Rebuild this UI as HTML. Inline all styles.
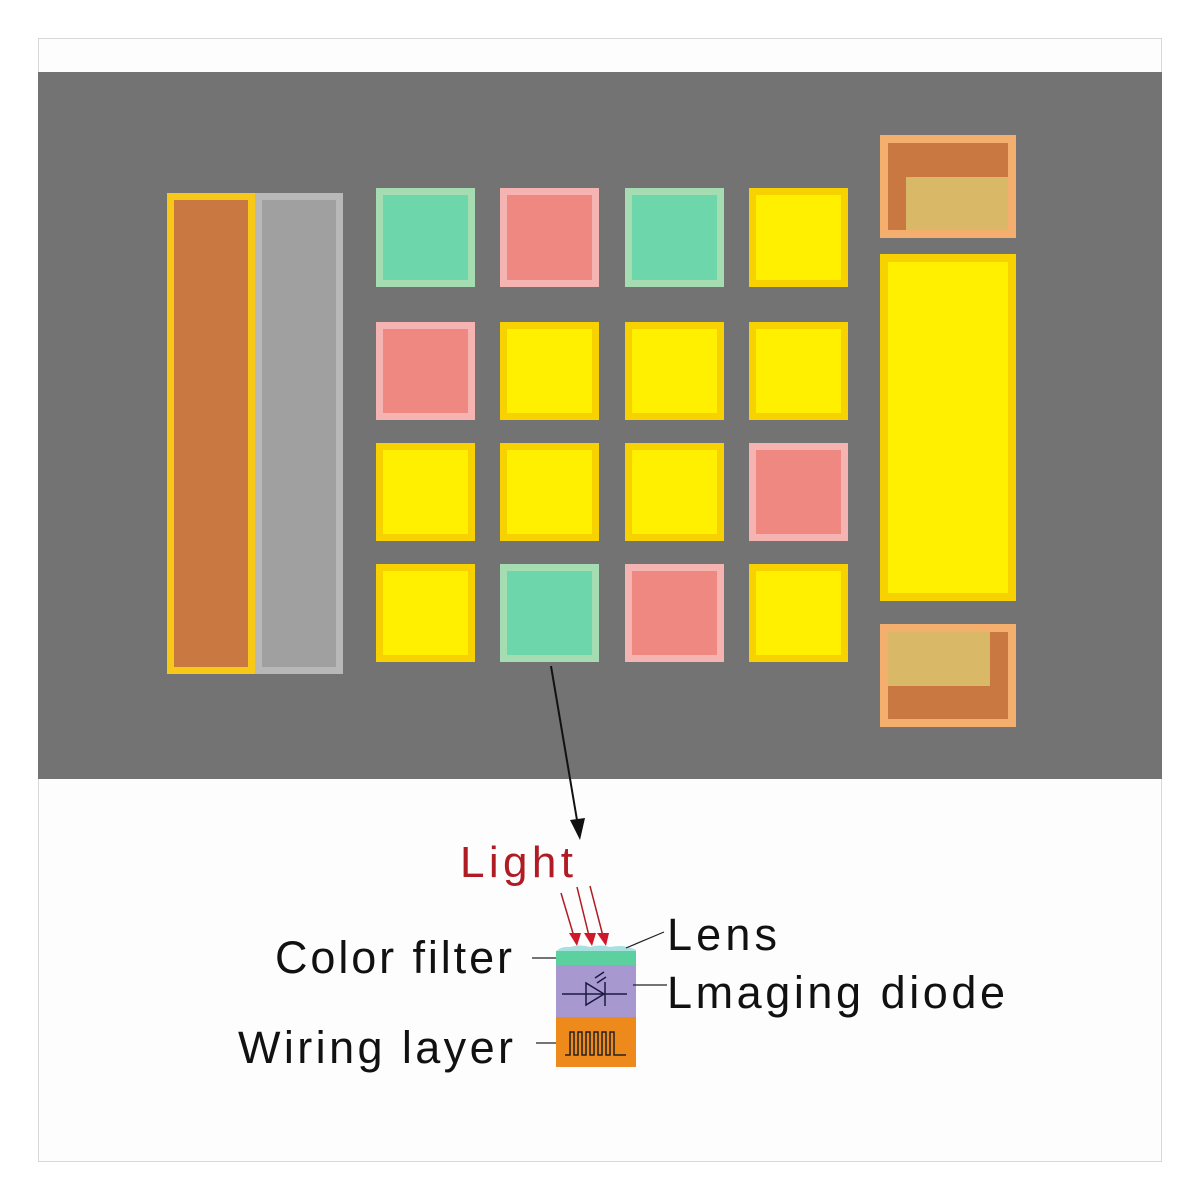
<!DOCTYPE html>
<html><head><style>body{margin:0;background:#fff}svg{display:block}</style></head><body>
<svg width="1200" height="1200" xmlns="http://www.w3.org/2000/svg" font-family="Liberation Sans, sans-serif">
<rect x="0" y="0" width="1200" height="1200" fill="#fff"/>
<rect x="38.5" y="38.5" width="1123" height="1123" fill="#fdfdfd" stroke="#d8d8d8"/>
<rect x="38" y="72" width="1124" height="707" fill="#737373"/>
<rect x="170.5" y="196.5" width="81" height="474" fill="#c87840" stroke="#f8c818" stroke-width="7"/>
<rect x="258.5" y="196.5" width="81" height="474" fill="#a0a0a0" stroke="#b8b8b8" stroke-width="7"/>
<g stroke-width="7">
<rect x="379.5" y="191.5" width="92" height="92" fill="#6dd6ab" stroke="#a6dcb2"/>
<rect x="503.5" y="191.5" width="92" height="92" fill="#ef8880" stroke="#f5b4b2"/>
<rect x="628.5" y="191.5" width="92" height="92" fill="#6dd6ab" stroke="#a6dcb2"/>
<rect x="752.5" y="191.5" width="92" height="92" fill="#fff000" stroke="#f8d200"/>
<rect x="379.5" y="325.5" width="92" height="91" fill="#ef8880" stroke="#f5b4b2"/>
<rect x="503.5" y="325.5" width="92" height="91" fill="#fff000" stroke="#f8d200"/>
<rect x="628.5" y="325.5" width="92" height="91" fill="#fff000" stroke="#f8d200"/>
<rect x="752.5" y="325.5" width="92" height="91" fill="#fff000" stroke="#f8d200"/>
<rect x="379.5" y="446.5" width="92" height="91" fill="#fff000" stroke="#f8d200"/>
<rect x="503.5" y="446.5" width="92" height="91" fill="#fff000" stroke="#f8d200"/>
<rect x="628.5" y="446.5" width="92" height="91" fill="#fff000" stroke="#f8d200"/>
<rect x="752.5" y="446.5" width="92" height="91" fill="#ef8880" stroke="#f5b4b2"/>
<rect x="379.5" y="567.5" width="92" height="91" fill="#fff000" stroke="#f8d200"/>
<rect x="503.5" y="567.5" width="92" height="91" fill="#6dd6ab" stroke="#a6dcb2"/>
<rect x="628.5" y="567.5" width="92" height="91" fill="#ef8880" stroke="#f5b4b2"/>
<rect x="752.5" y="567.5" width="92" height="91" fill="#fff000" stroke="#f8d200"/>
<rect x="884" y="139" width="128" height="95" fill="#c87840" stroke="#f4ae6e" stroke-width="8"/>
<rect x="884" y="258" width="128" height="339" fill="#fff000" stroke="#f8d200" stroke-width="8"/>
<rect x="884" y="628" width="128" height="95" fill="#c87840" stroke="#f4ae6e" stroke-width="8"/>
</g>
<rect x="906" y="177" width="102" height="53" fill="#d9b868"/>
<rect x="888" y="632" width="102" height="54" fill="#d9b868"/>
<line x1="551" y1="666" x2="578" y2="826" stroke="#111" stroke-width="2"/>
<polygon points="580,840 570,820 585,818" fill="#111"/>
<text x="460" y="877" font-size="44" fill="#b01c24" textLength="113" lengthAdjust="spacing">Light</text>
<g stroke="#b01c24" stroke-width="1.5">
<line x1="561" y1="893" x2="575" y2="940"/>
<line x1="577" y1="887" x2="590" y2="940"/>
<line x1="590" y1="886" x2="604" y2="940"/>
</g>
<g fill="#d0182a">
<polygon points="569,933 581,933 577,946"/>
<polygon points="584,933 596,933 592,946"/>
<polygon points="597,933 609,933 606,946"/>
</g>
<path d="M556,952 Q560,946 570,947 Q580,944 590,947 Q600,944 610,947 Q625,944 636,950 L636,953 L556,953 Z" fill="#a8e0e0"/>
<rect x="556" y="951" width="80" height="14" fill="#5dd0a0"/>
<rect x="556" y="965" width="80" height="52" fill="#a898d0"/>
<rect x="556" y="1017" width="80" height="50" fill="#ee8a1c"/>
<g stroke="#1a1a40" stroke-width="1.5" fill="none">
<line x1="562" y1="994" x2="627" y2="994"/>
<polygon points="586,983 586,1005 604,994"/>
<line x1="605" y1="982" x2="605" y2="1006"/>
<line x1="595" y1="978" x2="604" y2="972"/>
<line x1="597" y1="983" x2="606" y2="977"/>
</g>
<path d="M565,1055 H570 V1032 H574 V1055 H578 V1032 H582 V1055 H586 V1032 H590 V1055 H594 V1032 H598 V1055 H602 V1032 H606 V1055 H610 V1032 H614 V1055 H626" stroke="#222" stroke-width="1.5" fill="none"/>
<g stroke="#222" stroke-width="1.2">
<line x1="532" y1="958" x2="556" y2="958"/>
<line x1="626" y1="948" x2="664" y2="932"/>
<line x1="633" y1="985" x2="667" y2="985"/>
<line x1="536" y1="1043" x2="556" y2="1043"/>
</g>
<g font-size="45" fill="#111" lengthAdjust="spacing">
<text x="275" y="973" textLength="237">Color filter</text>
<text x="667" y="950" textLength="110">Lens</text>
<text x="667" y="1008" textLength="338">Lmaging diode</text>
<text x="238" y="1063" textLength="275">Wiring layer</text>
</g>
</svg>
</body></html>
